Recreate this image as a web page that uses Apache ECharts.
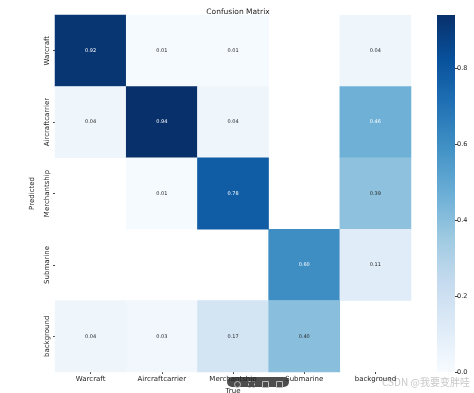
<!DOCTYPE html>
<html><head><meta charset="utf-8">
<script src="https://cdn.jsdelivr.net/npm/echarts@6/dist/echarts.min.js"></script>
<style>html,body{margin:0;padding:0;background:#fff}#c{width:474px;height:393px}</style>
</head><body><div id="c"></div>
<script>
const trueLabels = ['Warcraft','Aircraftcarrier','Merchantship','Submarine','background'];
const predictedLabels = ['Warcraft','Aircraftcarrier','Merchantship','Submarine','background'];
// rows = predicted, columns = true; null = blank (nan)
const rowWarcraft       = [0.92, 0.01, 0.01, null, 0.04];
const rowAircraftcarrier= [0.04, 0.94, 0.04, null, 0.46];
const rowMerchantship   = [null, 0.01, 0.78, null, 0.39];
const rowSubmarine      = [null, null, null, 0.60, 0.11];
const rowBackground     = [0.04, 0.03, 0.17, 0.40, null];
const colorbarTicks = [0, 0.2, 0.4, 0.6, 0.8];
const vmax = 0.94;

const rows = [rowWarcraft,rowAircraftcarrier,rowMerchantship,rowSubmarine,rowBackground];
const data = [];
rows.forEach((r, yi) => r.forEach((v, xi) => {
  if (v === null) return;
  data.push({value:[xi, yi, v], label:{color: v > 0.45 ? '#ffffff' : '#262626'}});
}));
const blues = ['#f7fbff','#deebf7','#c6dbef','#9ecae1','#6baed6','#4292c6','#2171b5','#08519c','#08306b'];
const F = 'DejaVu Sans';
const chart = echarts.init(document.getElementById('c'));
const grad = new echarts.graphic.LinearGradient(0, 1, 0, 0,
  blues.map((c, i) => ({offset: i / (blues.length - 1), color: c})));
const iconStyle = {fill:'none', stroke:'#bdbdbd', lineWidth:1};
chart.setOption({
  animation:false,
  backgroundColor:'#fff',
  title:{text:'Confusion Matrix', left:233, top:3, textAlign:'center',
    textStyle:{fontFamily:F, fontSize:7.5, fontWeight:'normal', color:'#222'}},
  grid:[{left:55, top:15, width:356, height:357, outerBoundsMode:'none', containLabel:false},
        {left:437, top:15, width:18, height:357, outerBoundsMode:'none', containLabel:false}],
  xAxis:[{type:'category', data:trueLabels, gridIndex:0, name:'True', nameLocation:'middle', nameGap:16,
      nameTextStyle:{fontFamily:F, fontSize:7, color:'#222'},
      axisLine:{show:false}, axisTick:{show:true, alignWithLabel:true, length:2, lineStyle:{color:'#444'}},
      axisLabel:{fontFamily:F, fontSize:7, color:'#222', margin:4}, splitLine:{show:false}},
    {type:'category', gridIndex:1, show:false, data:['']}],
  yAxis:[{type:'category', data:predictedLabels, gridIndex:0, inverse:true, name:'Predicted', nameLocation:'middle', nameGap:13,
      nameTextStyle:{fontFamily:F, fontSize:7, color:'#222'},
      axisLine:{show:false}, axisTick:{show:true, alignWithLabel:true, length:2, lineStyle:{color:'#444'}},
      axisLabel:{fontFamily:F, fontSize:7, color:'#222', rotate:90, margin:4}, splitLine:{show:false}},
    {type:'value', gridIndex:1, min:0, max:vmax, interval:0.2, position:'right',
      axisLine:{show:false}, axisTick:{show:true, length:3, lineStyle:{color:'#444'}},
      axisLabel:{fontFamily:F, fontSize:6.5, color:'#222', margin:2, showMaxLabel:false,
        formatter:v => colorbarTicks.some(t => Math.abs(t-v)<1e-6) ? v.toFixed(1) : ''},
      splitLine:{show:false}}],
  visualMap:{type:'continuous', show:false, min:0, max:vmax, inRange:{color:blues}, seriesIndex:0},
  series:[{type:'heatmap', xAxisIndex:0, yAxisIndex:0, data:data,
    label:{show:true, fontFamily:F, fontSize:5, formatter:p => p.value[2].toFixed(2)},
    itemStyle:{borderWidth:0}, emphasis:{disabled:true}},
    {type:'bar', xAxisIndex:1, yAxisIndex:1, data:[vmax], barWidth:'100%',
      itemStyle:{color:grad}, silent:true}],
  graphic:[
    {type:'rect', left:227, top:377, shape:{width:62, height:10, r:5}, style:{fill:'#4d4d4d'}},
    {type:'circle', left:232, top:379, shape:{r:3}, style:iconStyle},
    {type:'rect', left:246, top:379, shape:{width:6, height:6}, style:{fill:'none', stroke:'#bdbdbd', lineWidth:1, lineDash:[2,2]}},
    {type:'rect', left:260, top:379, shape:{width:6, height:6}, style:iconStyle},
    {type:'rect', left:274, top:379, shape:{width:6, height:6}, style:iconStyle},
    {type:'text', left:382, top:377, style:{text:'CSDN @我要变胖哇', fontFamily:'Noto Sans CJK SC', fontSize:10, fill:'#c8c8c8'}}
  ]
});
</script></body></html>
